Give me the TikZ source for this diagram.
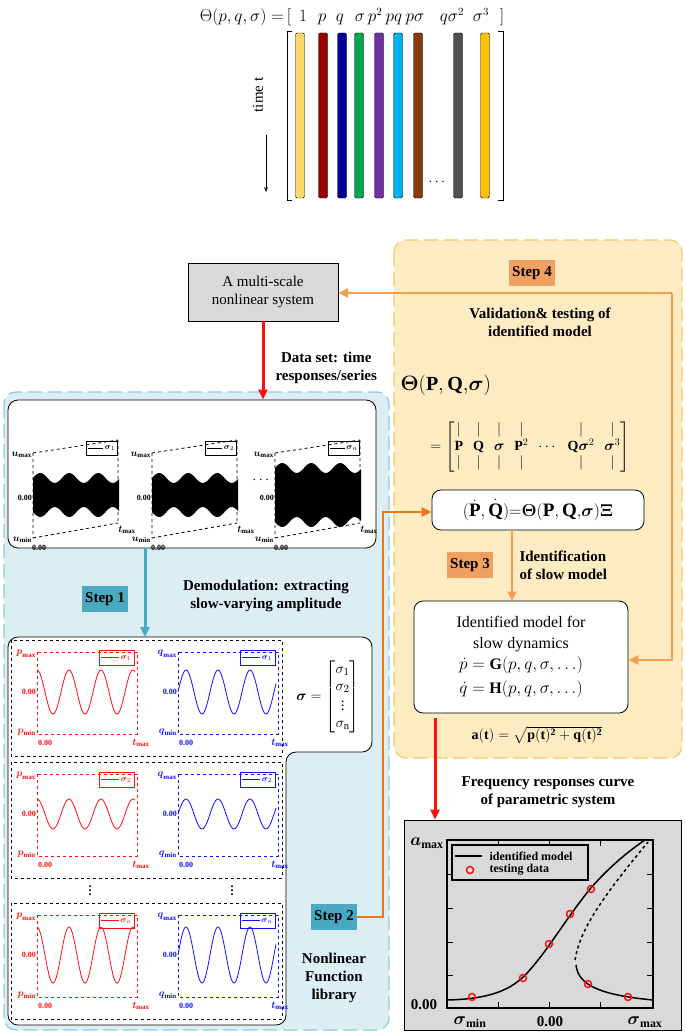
\documentclass[tikz,border=0pt]{standalone}
\usepackage{fontspec}
\setmainfont{Liberation Serif}
\usepackage{amsmath,amssymb}
\usetikzlibrary{arrows.meta}
\definecolor{lblue}{HTML}{DCEEF4}
\definecolor{bblue}{HTML}{8CCBDB}
\definecolor{lyel}{HTML}{FDEBC2}
\definecolor{byel}{HTML}{F8C86A}
\definecolor{stepor}{HTML}{F0A060}
\definecolor{stepbl}{HTML}{4AA8C0}
\definecolor{arror}{HTML}{F0A050}
\definecolor{darkor}{HTML}{E87818}
\definecolor{pred}{HTML}{FF1010}
\definecolor{qblue}{HTML}{1010FF}
\tikzset{
 bt/.style={font=\fontsize{15}{18}\selectfont\bfseries,align=center},
 stepbox/.style={font=\fontsize{15}{18}\selectfont\bfseries,inner sep=3pt,minimum height=26pt},
 small/.style={font=\fontsize{10}{11}\selectfont\bfseries,inner sep=1pt},
 tiny0/.style={font=\fontsize{8}{9}\selectfont\bfseries,inner sep=1pt},
 toplbl/.style={font=\fontsize{16}{18}\selectfont,inner sep=0pt,anchor=base},
 wave/.pic={
  \draw[dashed,thick] (0,0)--(85,-13) (0,85)--(85,70) (0,0)--(0,85) (85,-13)--(85,70);
  \draw (53,-12) rectangle (84,2); \draw (55,-5)--(70,-5);
  \node[tiny0] at (77,-5) {$\boldsymbol\sigma_{#1}$};
  \node[small,anchor=east] at (0,2) {$\boldsymbol u_{\mathbf{max}}$};
  \node[tiny0,anchor=east] at (0,45) {0.00};
  \node[small,anchor=east] at (0,87) {$\boldsymbol u_{\mathbf{min}}$};
  \node[tiny0] at (6,95) {0.00};
  \node[small] at (94,77) {$\boldsymbol t_{\mathbf{max}}$};
 },
 ppl/.pic={
  \draw[dashed,thick,pred] (0,0) rectangle (100,82);
  \draw[pred,thick] (62,-2) rectangle (97,13); \draw[pred,thick] (64,5.5)--(82,5.5);
  \node[tiny0,pred] at (89,6) {$\boldsymbol\sigma_{#1}$};
  \node[small,pred,anchor=east] at (0,2) {$\boldsymbol p_{\mathbf{max}}$};
  \node[tiny0,pred,anchor=east] at (0,40) {0.00};
  \node[small,pred,anchor=east] at (0,80) {$\boldsymbol p_{\mathbf{min}}$};
  \node[tiny0,pred] at (8,91) {0.00};
  \node[small,pred] at (104,91) {$\boldsymbol t_{\mathbf{max}}$};
 },
 qpl/.pic={
  \draw[dashed,thick,qblue] (0,0) rectangle (100,82);
  \draw[qblue,thick] (62,-2) rectangle (97,13); \draw[qblue,thick] (64,5.5)--(82,5.5);
  \node[tiny0,qblue] at (89,6) {$\boldsymbol\sigma_{#1}$};
  \node[small,qblue,anchor=east] at (0,2) {$\boldsymbol q_{\mathbf{max}}$};
  \node[tiny0,qblue,anchor=east] at (0,40) {0.00};
  \node[small,qblue,anchor=east] at (0,80) {$\boldsymbol q_{\mathbf{min}}$};
  \node[tiny0,qblue] at (8,91) {0.00};
  \node[small,qblue] at (102,91) {$\boldsymbol t_{\mathbf{max}}$};
 },
}
\begin{document}
\begin{tikzpicture}[x=1pt,y=-1pt]
\useasboundingbox (0,0) rectangle (685,1035);
% ---------- top matrix
\node[toplbl,anchor=base east] (theta) at (284,22) {$\Theta(p,q,\sigma)=$};
\node[toplbl] (l0) at (289,22) {$[$};
\node[toplbl] (l1) at (303,22) {$1$};
\node[toplbl] (l2) at (322,22) {$p$};
\node[toplbl] (l3) at (340,22) {$q$};
\node[toplbl] (l4) at (360,22) {$\sigma$};
\node[toplbl] (l5) at (375,22) {$p^2$};
\node[toplbl] (l6) at (394,22) {$pq$};
\node[toplbl] (l7) at (415,22) {$p\sigma$};
\node[toplbl] (l8) at (452,22) {$q\sigma^2$};
\node[toplbl] (l9) at (481,22) {$\sigma^3$};
\node[toplbl] (l10) at (502,22) {$]$};
\draw[semithick] (292,31)--(287,31)--(287,200)--(292,200) (498,31)--(503,31)--(503,200)--(498,200);
\foreach \xx/\cc in {300/FFD966,323/990000,342/000099,359/00A650,379/7030A0,398/00B0F0,418/843C0C,458/505050,485/FFC000}{
 \definecolor{bc}{HTML}{\cc}
 \draw[fill=bc,rounded corners=1.5pt] (\xx-4.5,33) rectangle (\xx+4.5,198);}
\node[font=\fontsize{14}{15}\selectfont] (dots0) at (438,182) {$\cdots$};
\node[rotate=90,font=\fontsize{15}{17}\selectfont] (timet) at (258,95) {time t};
\coordinate (ta) at (266,135); \coordinate (tb) at (266,192);
\draw[-{Stealth}] (ta)--(tb);
% ---------- regions
\draw[dashed,very thick,bblue,fill=lblue,rounded corners=12pt,dash pattern=on 14pt off 6pt] (4,392) rectangle (389,1030);
\draw[dashed,very thick,byel,fill=lyel,rounded corners=12pt,dash pattern=on 14pt off 6pt] (394,240) rectangle (682,758);
% ---------- multiscale system
\node[draw,fill=gray!30,minimum width=150pt,minimum height=58pt,align=center,font=\fontsize{15}{18}\selectfont] (sys) at (263,292) {A multi-scale\\nonlinear system};
\node[bt,anchor=west] (dataset) at (272,368) {Data set: time\\responses/series};
% ---------- waveform panel
\node[draw,thick,fill=white,rounded corners=10pt,minimum width=368pt,minimum height=148pt] (wpanel) at (192,474) {};
\draw[-{Triangle[length=10pt,width=9pt]},line width=3pt,pred] (sys.south) -- (sys.south|-wpanel.north);
\foreach \xo/\ss/\amp in {33/1/17,152/2/17,275/n/27}{
 \begin{scope}[shift={(\xo,453)}]
 \fill plot[domain=0:86,samples=60] (\x,{42-\amp-5*sin(\x/29*360)}) -- plot[domain=86:0,samples=60] (\x,{42+\amp+5*sin(\x/29*360)}) -- cycle;
 \pic {wave=\ss};
 \end{scope}}
\node[font=\bfseries\fontsize{15}{15}\selectfont] (wdots) at (262,480) {$\cdots$};
% ---------- step 1
\node[stepbox,fill=stepbl,anchor=center] (s1) at (105,599) {Step 1};
\node[bt] (demod) at (266,596) {Demodulation: extracting\\slow-varying amplitude};
% ---------- p/q panel
\draw[thick,fill=white,rounded corners=10pt] (8,637)--(372,637)--(372,752)--(286,752)--(286,1025)--(8,1025)--cycle;
\coordinate (ppan) at (145,637);
\draw[-{Triangle[length=10pt,width=9pt]},line width=3pt,stepbl] (145,548) -- (ppan);
\foreach \yo/\ss/\amp in {640/1/22,762/2/15,903/n/28}{
 \draw[dashed,thick] (11,\yo) rectangle (282,\yo+116);
 \begin{scope}[shift={(37,\yo+12)}]
  \draw[pred,thick] plot[domain=0:98,samples=90] (\x,{40-\amp*sin(\x/32*360+90)});
  \pic {ppl=\ss};
 \end{scope}
 \begin{scope}[shift={(178,\yo+12)}]
  \draw[qblue,thick] plot[domain=0:98,samples=90] (\x,{40-\amp*sin(\x/32*360)});
  \pic {qpl=\ss};
 \end{scope}}
\node[font=\bfseries\fontsize{12}{12}\selectfont] (vd1) at (90,888) {$\vdots$};
\node[font=\bfseries\fontsize{12}{12}\selectfont] (vd2) at (232,888) {$\vdots$};
\node[font=\fontsize{15}{17}\selectfont] (sigv) at (328,697) {$\boldsymbol{\sigma}=\begin{bmatrix}\sigma_1\\ \sigma_2\\ \vdots\\ \sigma_{\mathrm n}\end{bmatrix}$};
% ---------- step 2
\node[stepbox,fill=stepbl] (s2) at (334,917) {Step 2};
\node[bt] (nlib) at (334,978) {Nonlinear\\Function\\library};
% ---------- right side
\node[stepbox,fill=stepor] (s4) at (532,273) {Step 4};
\node[bt] (valid) at (540,322) {Validation\& testing of\\identified model};
\node[font=\fontsize{20}{22}\selectfont\bfseries,anchor=west] (thP) at (397,385) {$\boldsymbol{\Theta}\mathbf{(P,Q,}\boldsymbol{\sigma}\mathbf{)}$};
\node[font=\fontsize{14}{16}\selectfont] (mat) at (530,447) {$=\left[\begin{matrix}|&|&|&|&&|&|\\ \mathbf P&\mathbf Q&\boldsymbol\sigma&\mathbf P^2&\cdots&\mathbf Q\boldsymbol\sigma^2&\boldsymbol\sigma^3\\ |&|&|&|&&|&|\end{matrix}\right]$};
\node[draw,thick,fill=white,rounded corners=9pt,minimum width=212pt,minimum height=40pt,font=\fontsize{19}{21}\selectfont] (eq) at (538,510) {$(\dot{\mathbf P},\dot{\mathbf Q})\mathbf{=}\boldsymbol\Theta\mathbf{(P,Q,}\boldsymbol\sigma\mathbf{)}\boldsymbol\Xi$};
\node[draw,thick,fill=white,rounded corners=9pt,minimum width=214pt,minimum height=112pt,align=center,font=\fontsize{16}{21}\selectfont] (idm) at (521,657) {Identified model for\\slow dynamics\\$\dot p=\mathbf G(p,q,\sigma,\ldots)$\\[3pt]$\dot q=\mathbf H(p,q,\sigma,\ldots)$};
\draw[-{Triangle[length=9pt,width=9pt]},line width=2.5pt,arror] (eq.south-|512,0) -- (idm.north-|512,0);
\node[stepbox,fill=stepor] (s3) at (470,565) {Step 3};
\node[bt,align=left,anchor=west] (identt) at (516,565) {Identification\\of slow model};
\node[font=\fontsize{14}{15}\selectfont\bfseries] (at) at (537,735) {$\mathbf{a(t)=\sqrt{p(t)^2+q(t)^2}}$};
\coordinate (c4) at (672,293);
\draw[-{Triangle[length=10pt,width=9pt]},line width=2.5pt,arror] (c4) -- (sys.east|-c4);
\draw[-{Triangle[length=10pt,width=9pt]},line width=2.5pt,arror] (c4) -- (672,660) -- (idm.east|-0,660);
\coordinate (c2) at (383,917);
\draw[-{Triangle[length=10pt,width=9pt]},line width=2.5pt,darkor] (s2.east) -- (c2) -- (383,512) -- (eq.west|-0,512);
% ---------- frequency response
\node[bt] (freq) at (548,792) {Frequency responses curve\\of parametric system};
\node[draw,thick,fill=gray!30,minimum width=277pt,minimum height=210pt] (fr) at (543,925) {};
\coordinate (ra) at (435,718);
\draw[-{Triangle[length=10pt,width=9pt]},line width=3pt,pred] (ra) -- (ra|-fr.north);
\begin{scope}
\draw[line width=1.5pt] (447,840) rectangle (653,1008);
\foreach \t in {498,549,600}{\draw[thick] (\t,1008)--(\t,1002) (\t,840)--(\t,846);}
\foreach \t in {874,908,942,975}{\draw[thick] (447,\t)--(453,\t) (653,\t)--(647,\t);}
\draw[line width=1.5pt] (447,1000) .. controls (490,999) and (512,990) .. (528,972) .. controls (548,950) and (565,920) .. (590,889) .. controls (610,866) and (630,850) .. (645,840);
\draw[line width=1.5pt,dashed] (575,960) .. controls (580,930) and (600,900) .. (648,842);
\draw[line width=1.5pt] (576,965) .. controls (578,985) and (600,995) .. (653,1000);
\foreach \px/\py in {472/997,523/978,549/944,570/914,591/889,588/984,628/997}{\draw[pred,line width=1.5pt] (\px,\py) circle (3.5);}
\draw[line width=1.5pt] (452,845) rectangle (588,880);
\draw[line width=1.5pt] (455,856)--(482,856);
\draw[pred,line width=1.5pt] (470,870) circle (3.5);
\node[font=\fontsize{12}{13}\selectfont\bfseries,anchor=west] (lg1) at (486,856) {identified model};
\node[font=\fontsize{12}{13}\selectfont\bfseries,anchor=west] (lg2) at (486,870) {testing data};
\node[font=\fontsize{17}{18}\selectfont\bfseries] (amax) at (427,843) {$\boldsymbol{a}_{\mathbf{max}}$};
\node[font=\fontsize{15}{16}\selectfont\bfseries] (z1) at (424,1005) {0.00};
\node[font=\fontsize{17}{18}\selectfont\bfseries] (smin) at (470,1022) {$\boldsymbol\sigma_{\mathbf{min}}$};
\node[font=\fontsize{15}{16}\selectfont\bfseries] (z2) at (550,1022) {0.00};
\node[font=\fontsize{17}{18}\selectfont\bfseries] (smax) at (645,1022) {$\boldsymbol\sigma_{\mathbf{max}}$};
\end{scope}
\end{tikzpicture}
\end{document}
